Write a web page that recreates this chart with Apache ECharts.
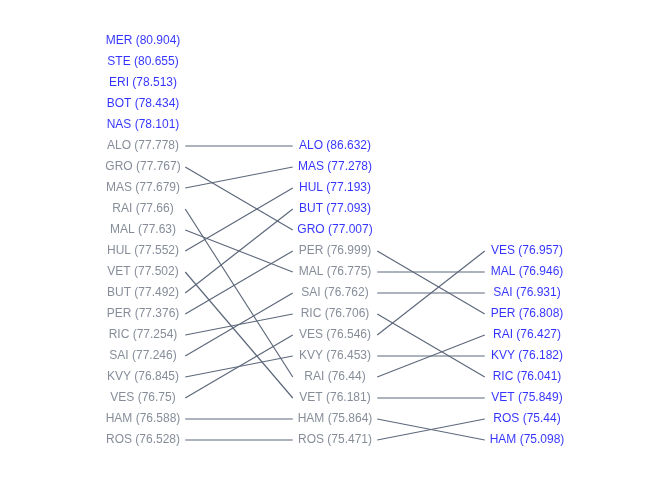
<!DOCTYPE html>
<html lang="en">
<head>
  <meta charset="UTF-8">
  <title>Qualifying ranks</title>
  <style>
    body { margin: 0; }
    #chart { width: 672px; height: 480px; background: white; }
  </style>
</head>
<body>
<div id="chart"></div>
<script src="https://cdn.jsdelivr.net/npm/echarts@6/dist/echarts.min.js"></script>
<script>
  // three sessions, drivers ordered slowest first (top) to fastest (bottom)
  var q1Names = ['MER','STE','ERI','BOT','NAS','ALO','GRO','MAS','RAI','MAL','HUL','VET','BUT','PER','RIC','SAI','KVY','VES','HAM','ROS'];
  var q1Times = [80.904,80.655,78.513,78.434,78.101,77.778,77.767,77.679,77.66,77.63,77.552,77.502,77.492,77.376,77.254,77.246,76.845,76.75,76.588,76.528];
  var q2Names = ['ALO','MAS','HUL','BUT','GRO','PER','MAL','SAI','RIC','VES','KVY','RAI','VET','HAM','ROS'];
  var q2Times = [86.632,77.278,77.193,77.093,77.007,76.999,76.775,76.762,76.706,76.546,76.453,76.44,76.181,75.864,75.471];
  var q3Names = ['VES','MAL','SAI','PER','RAI','KVY','RIC','VET','ROS','HAM'];
  var q3Times = [76.957,76.946,76.931,76.808,76.427,76.182,76.041,75.849,75.44,75.098];
  var q2Out = 5; // first five of a session drop out

  var gray = '#68717f', blue = '#0000ff', lineColor = '#5d687b';
  var off = 0.22;

  function labelSeries(names, times, col, startRank, outCount) {
    return {
      type: 'scatter', symbolSize: 0, silent: true,
      data: names.map(function (n, i) {
        return {
          value: [col, startRank + i],
          label: {
            show: true, position: 'inside',
            formatter: n + ' (' + times[i] + ')',
            color: i < outCount ? blue : gray,
            fontFamily: 'Liberation Sans, Arial', fontSize: 12
          }
        };
      })
    };
  }

  function linkSeries(fromNames, fromStart, toNames, toStart, col) {
    return toNames.map(function (n, i) {
      var r1 = fromStart + fromNames.indexOf(n);
      return {
        type: 'line', symbol: 'none', silent: true,
        lineStyle: { color: lineColor, width: 1.2 },
        data: [[col + off, r1], [col + 1 - off, toStart + i]]
      };
    });
  }

  var start2 = q1Names.length - q2Names.length;
  var start3 = q1Names.length - q3Names.length;

  var series = []
    .concat(linkSeries(q1Names, 0, q2Names, start2, 1))
    .concat(linkSeries(q2Names, start2, q3Names, start3, 2))
    .concat([
      labelSeries(q1Names, q1Times, 1, 0, 5),
      labelSeries(q2Names, q2Times, 2, start2, q2Out),
      labelSeries(q3Names, q3Times, 3, start3, q3Names.length)
    ]);

  var chart = echarts.init(document.getElementById('chart'));
  chart.setOption({
    animation: false,
    grid: { left: 47, width: 576, top: 30.5, height: 420 },
    xAxis: { type: 'value', min: 0.5, max: 3.5, show: false },
    yAxis: { type: 'value', min: -0.5, max: 19.5, inverse: true, show: false },
    series: series
  });
</script>
</body>
</html>
